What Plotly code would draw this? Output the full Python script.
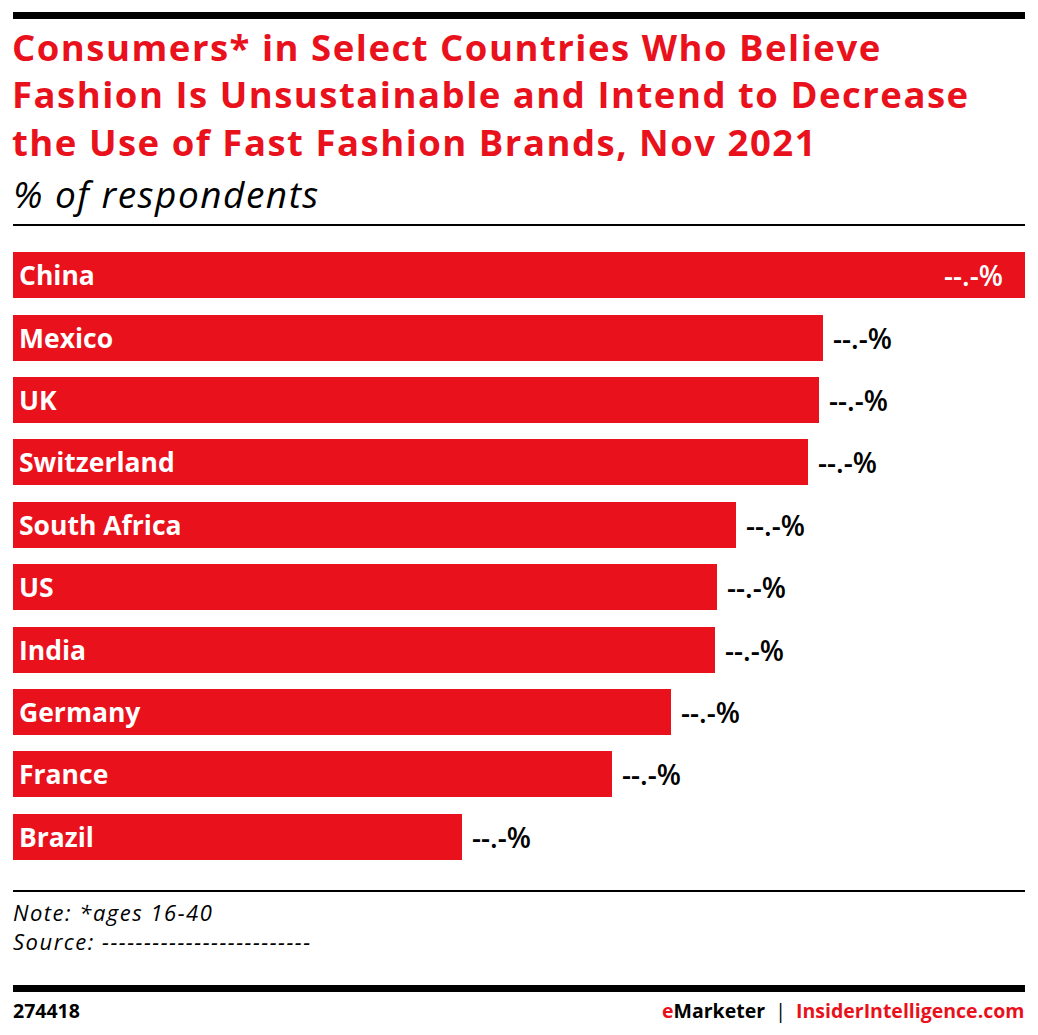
import plotly.graph_objects as go

countries = ["China", "Mexico", "UK", "Switzerland", "South Africa", "US", "India", "Germany", "France", "Brazil"]
values = [50.0, 40.0, 39.8, 39.3, 35.7, 34.8, 34.7, 32.5, 29.6, 22.2]
value_labels = ["--.-%"] * len(countries)

title_lines = [
    "Consumers* in Select Countries Who Believe",
    "Fashion Is Unsustainable and Intend to Decrease",
    "the Use of Fast Fashion Brands, Nov 2021",
]
subtitle = "% of respondents"
note = "Note: *ages 16-40"
source = "Source: -------------------------"
chart_id = "274418"

RED = "#e8111c"
W, H = 1038, 1035
L, R, T, B = 13, 13, 244, 167
PW, PH = W - L - R, H - T - B
XMAX = 50.0

def px_x(px):
    return (px - L) / PW

def px_y(py):
    return (H - B - py) / PH

def spaced(text, ls):
    return f"<span style='letter-spacing:{ls}px'>{text}</span>"

fig = go.Figure()
fig.add_trace(go.Bar(
    x=values, y=countries, orientation="h",
    marker=dict(color=RED, line=dict(width=0)),
    width=0.737, hoverinfo="skip", showlegend=False,
))

annotations = []
FONT = "Open Sans"
for c in countries:
    annotations.append(dict(
        x=0, y=c, xref="x", yref="y", text=f"<b>{c}</b>", showarrow=False,
        xanchor="left", yanchor="middle", xshift=4,
        font=dict(family=FONT, size=26.5, color="white"),
    ))
for i, (c, v, t) in enumerate(zip(countries, values, value_labels)):
    if i == 0:
        annotations.append(dict(
            x=v, y=c, xref="x", yref="y", text=t, showarrow=False,
            xanchor="right", yanchor="middle", xshift=-20,
            font=dict(family=FONT, size=28, color="white", weight=600),
        ))
    else:
        annotations.append(dict(
            x=v, y=c, xref="x", yref="y", text=t, showarrow=False,
            xanchor="left", yanchor="middle", xshift=8,
            font=dict(family=FONT, size=28, color="black", weight=600),
        ))

title_text = "<br>".join(f"<b>{spaced(l, 1.5)}</b>" for l in title_lines)
annotations.append(dict(
    x=px_x(10), y=px_y(95), xref="paper", yref="paper", text=title_text,
    showarrow=False, xanchor="left", yanchor="middle", align="left",
    font=dict(family=FONT, size=36.5, color=RED),
))
annotations.append(dict(
    x=px_x(11), y=px_y(193), xref="paper", yref="paper", text=f"<i>{spaced(subtitle, 1.5)}</i>",
    showarrow=False, xanchor="left", yanchor="middle",
    font=dict(family=FONT, size=37, color="black"),
))
annotations.append(dict(
    x=px_x(11), y=px_y(926.5), xref="paper", yref="paper",
    text=f"<i>{spaced(note, 1.5)}</i><br><i>{spaced(source, 1.5)}</i>",
    showarrow=False, xanchor="left", yanchor="middle", align="left",
    font=dict(family=FONT, size=22, color="black"),
))
annotations.append(dict(
    x=px_x(11), y=px_y(1010), xref="paper", yref="paper", text=f"<b>{chart_id}</b>",
    showarrow=False, xanchor="left", yanchor="middle",
    font=dict(family=FONT, size=19.5, color="black"),
))
annotations.append(dict(
    x=px_x(1026), y=px_y(1010), xref="paper", yref="paper",
    text=f"<b><span style='color:{RED}'>e</span>Marketer</b>  |  <b><span style='color:{RED}'>InsiderIntelligence.com</span></b>",
    showarrow=False, xanchor="right", yanchor="middle",
    font=dict(family=FONT, size=19.5, color="black"),
))

shapes = [
    dict(type="rect", xref="paper", yref="paper", x0=px_x(13), x1=px_x(1025), y0=px_y(12), y1=px_y(19),
         fillcolor="black", line=dict(width=0)),
    dict(type="line", xref="paper", yref="paper", x0=px_x(13), x1=px_x(1025), y0=px_y(225), y1=px_y(225),
         line=dict(color="black", width=2)),
    dict(type="line", xref="paper", yref="paper", x0=px_x(13), x1=px_x(1025), y0=px_y(891), y1=px_y(891),
         line=dict(color="black", width=2)),
    dict(type="rect", xref="paper", yref="paper", x0=px_x(13), x1=px_x(1025), y0=px_y(985), y1=px_y(992),
         fillcolor="black", line=dict(width=0)),
]

fig.update_layout(
    width=W, height=H,
    margin=dict(l=L, r=R, t=T, b=B, pad=0),
    paper_bgcolor="white", plot_bgcolor="white",
    xaxis=dict(range=[0, XMAX], visible=False, fixedrange=True),
    yaxis=dict(categoryorder="array", categoryarray=countries, autorange=False,
               range=[len(countries) - 0.5, -0.5], visible=False, fixedrange=True),
    annotations=annotations, shapes=shapes, bargap=0,
)

fig.write_html("out.html")
